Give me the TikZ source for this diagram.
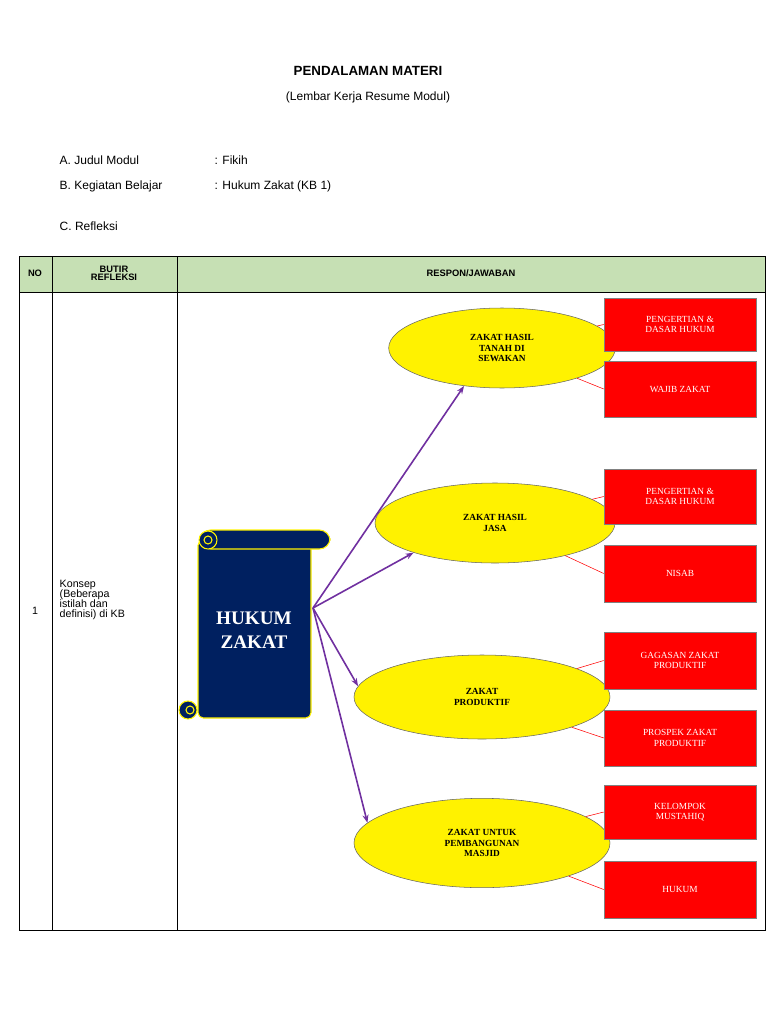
\documentclass[tikz,border=0pt]{standalone}
\usepackage{fontspec}
\setmainfont{Liberation Sans}
\newfontfamily\boxfont{Liberation Serif}
\usetikzlibrary{shapes.geometric,arrows.meta}
\definecolor{headgreen}{HTML}{C6E0B4}
\definecolor{scrollblue}{HTML}{002060}
\definecolor{arrowpurple}{HTML}{7030A0}
\tikzset{
    topik/.style={ellipse, draw=black!60, fill=yellow, minimum width=#1, align=center, font=\boxfont\bfseries\scriptsize},
    sub/.style={rectangle, draw=black!50, fill=red, text=white, minimum width=114pt, align=center, font=\boxfont\scriptsize},
    panah/.style={very thick, arrowpurple, -{Stealth[length=6pt]}},
    garis/.style={red, thin}
}
\begin{document}
\begin{tikzpicture}[x=0.75pt, y=-0.75pt]
    \useasboundingbox (0,0) rectangle (768,1024);

    % Judul
    \node[font=\bfseries] (judul) at (368,71) {PENDALAMAN MATERI};
    \node[font=\small] (sub) at (368,97) {(Lembar Kerja Resume Modul)};
    \node[anchor=west, font=\small] (a) at (55,160) {A. Judul Modul};
    \node[anchor=west, font=\small] (a2) at (210,160) {: Fikih};
    \node[anchor=west, font=\small] (b) at (55,186) {B. Kegiatan Belajar};
    \node[anchor=west, font=\small] (b2) at (210,186) {: Hukum Zakat (KB 1)};
    \node[anchor=west, font=\small] (c) at (55,226) {C. Refleksi};

    % Tabel
    \fill[headgreen] (19,256) rectangle (765,292);
    \draw (19,256) rectangle (765,930);
    \draw (19,292) -- (765,292);
    \draw (52,256) -- (52,930);
    \draw (177,256) -- (177,930);
    \node[font=\bfseries\scriptsize] (no) at (35,273) {NO};
    \node[font=\bfseries\scriptsize, align=center] (butir) at (114,273) {BUTIR\\[-2pt]REFLEKSI};
    \node[font=\bfseries\scriptsize] (respon) at (471,273) {RESPON/JAWABAN};
    \node[font=\footnotesize] (satu) at (35,611) {1};
    \node[font=\footnotesize, anchor=north west, align=left] (konsep) at (55,575) {Konsep\\[-2pt](Beberapa\\[-2pt]istilah dan\\[-2pt]definisi) di KB};

    % Gulungan
    \draw[yellow, thick, fill=scrollblue, rounded corners=4pt] (198,540) rectangle (311,718);
    \draw[yellow, thick, fill=scrollblue, rounded corners=8pt] (200,530) rectangle (330,549);
    \draw[yellow, thick, fill=scrollblue] (208,540) circle (9);
    \draw[yellow, thick] (208,540) circle (4);
    \draw[yellow, thick, fill=scrollblue] (188,710) circle (9);
    \draw[yellow, thick] (190,710) circle (4);
    \node[text=white, font=\boxfont\bfseries\Large, align=center] (hukum) at (254,630) {HUKUM\\ZAKAT};
    \coordinate (pusat) at (313,608);

    % Topik
    \node[topik=170pt, minimum height=60pt] (e1) at (502,348) {ZAKAT HASIL\\TANAH DI\\SEWAKAN};
    \node[topik=180pt, minimum height=60pt] (e2) at (495,523) {ZAKAT HASIL\\JASA};
    \node[topik=192pt, minimum height=63pt] (e3) at (482,697) {ZAKAT\\PRODUKTIF};
    \node[topik=192pt, minimum height=67pt] (e4) at (482,843) {ZAKAT UNTUK\\PEMBANGUNAN\\MASJID};

    \draw[panah] (pusat) -- (e1.225);
    \draw[panah] (pusat) -- (e2.200);
    \draw[panah] (pusat) -- (e3.175);
    \draw[panah] (pusat) -- (e4.170);

    % Kotak merah
    \foreach \n/\y/\h/\teks in {r1/324.5/53/{PENGERTIAN \&\\DASAR HUKUM}, r2/389/56/WAJIB ZAKAT,
        r3/496.5/55/{PENGERTIAN \&\\DASAR HUKUM}, r4/573.5/57/NISAB,
        r5/660.5/57/{GAGASAN ZAKAT\\PRODUKTIF}, r6/738/56/{PROSPEK ZAKAT\\PRODUKTIF},
        r7/812/54/{KELOMPOK\\MUSTAHIQ}, r8/889.5/57/HUKUM} {
        \node[sub, minimum height=\h*0.75pt] (\n) at (680,\y) {\teks};
    }
    \draw[garis] (e1) -- (r1.west);
    \draw[garis] (e1) -- (r2.west);
    \draw[garis] (e2) -- (r3.west);
    \draw[garis] (e2) -- (r4.west);
    \draw[garis] (e3) -- (r5.west);
    \draw[garis] (e3) -- (r6.west);
    \draw[garis] (e4) -- (r7.west);
    \draw[garis] (e4) -- (r8.west);
\end{tikzpicture}
\end{document}
